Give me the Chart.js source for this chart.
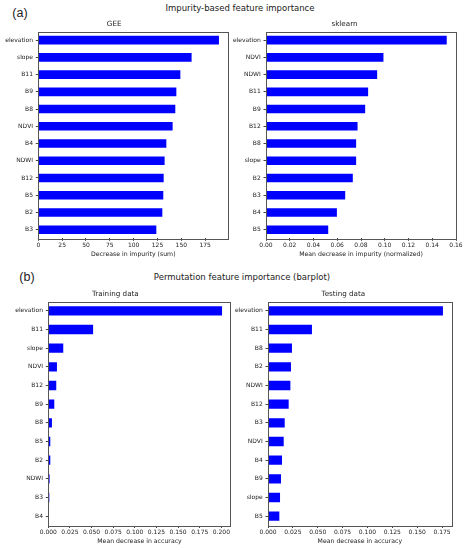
<!DOCTYPE html>
<html>
<head>
<meta charset="utf-8">
<script src="https://cdn.jsdelivr.net/npm/chart.js@4.4.1/dist/chart.umd.min.js"></script>
<style>
body { margin: 0; background: #fff; }
#fig { position: relative; width: 467px; height: 550px; overflow: hidden; font-family: "DejaVu Sans", sans-serif; color: #222; }
#fig canvas { position: absolute; }
.lbl { position: absolute; white-space: nowrap; line-height: 1; transform: translate(-50%, -50%); }
</style>
</head>
<body>
<div id="fig">
  <div class="lbl" style="left:20px;top:13px;font-size:12.5px;font-family:'Liberation Sans',sans-serif">(a)</div>
  <div class="lbl" style="left:240px;top:8px;font-size:8.5px">Impurity-based feature importance</div>
  <div class="lbl" style="left:27px;top:277px;font-size:12.5px;font-family:'Liberation Sans',sans-serif">(b)</div>
  <div class="lbl" style="left:242px;top:277px;font-size:8.5px">Permutation feature importance (barplot)</div>
  <canvas id="geeChart" width="233" height="250" style="left:0;top:14px"></canvas>
  <canvas id="sklearnChart" width="234" height="250" style="left:233px;top:14px"></canvas>
  <canvas id="trainChart" width="235" height="266" style="left:0;top:284px"></canvas>
  <canvas id="testChart" width="232" height="266" style="left:235px;top:284px"></canvas>
</div>
<script>
// GEE impurity importance
const geeLabels = ['elevation', 'slope', 'B11', 'B9', 'B8', 'NDVI', 'B4', 'NDWI', 'B12', 'B5', 'B2', 'B3'];
const geeValues = [189.5, 160.8, 149, 144.8, 143.7, 140.9, 134.3, 132.5, 131.5, 131.1, 130.1, 123.8];
const geeTicks = [0, 25, 50, 75, 100, 125, 150, 175];

// sklearn impurity importance
const skLabels = ['elevation', 'NDVI', 'NDWI', 'B11', 'B9', 'B12', 'B8', 'slope', 'B2', 'B3', 'B4', 'B5'];
const skValues = [0.1522, 0.0989, 0.0936, 0.0860, 0.0835, 0.0771, 0.0759, 0.0759, 0.0731, 0.0667, 0.0597, 0.0524];
const skTicks = [0, 0.02, 0.04, 0.06, 0.08, 0.10, 0.12, 0.14, 0.16];

// permutation importance, training data
const trainLabels = ['elevation', 'B11', 'slope', 'NDVI', 'B12', 'B9', 'B8', 'B5', 'B2', 'NDWI', 'B3', 'B4'];
const trainValues = [0.2008, 0.0518, 0.0173, 0.0100, 0.0092, 0.0069, 0.0042, 0.0023, 0.0023, 0.0015, 0.0012, 0];
const trainTicks = [0, 0.025, 0.05, 0.075, 0.1, 0.125, 0.15, 0.175, 0.2];

// permutation importance, testing data
const testLabels = ['elevation', 'B11', 'B8', 'B2', 'NDWI', 'B12', 'B3', 'NDVI', 'B4', 'B9', 'slope', 'B5'];
const testValues = [0.1759, 0.0442, 0.0241, 0.0231, 0.0225, 0.0208, 0.0168, 0.0158, 0.0141, 0.0131, 0.0121, 0.0114];
const testTicks = [0, 0.025, 0.05, 0.075, 0.1, 0.125, 0.15, 0.175];

const FONT = '"DejaVu Sans", sans-serif';

// matplotlib style box around the plot area
const framePlugin = {
  id: 'frame',
  afterDraw(chart) {
    const a = chart.chartArea;
    const ctx = chart.ctx;
    ctx.save();
    ctx.strokeStyle = '#555';
    ctx.lineWidth = 1;
    ctx.strokeRect(Math.round(a.left) + 0.5, Math.round(a.top) + 0.5, Math.round(a.right - a.left), Math.round(a.bottom - a.top));
    ctx.restore();
  }
};

function drawPanel(id, opts) {
  const canvas = document.getElementById(id);
  return new Chart(canvas, {
    type: 'bar',
    plugins: [framePlugin],
    data: {
      labels: opts.labels,
      datasets: [{
        data: opts.values,
        backgroundColor: '#0000ff',
        borderWidth: 0,
        barPercentage: 0.5,
        categoryPercentage: 1,
      }]
    },
    options: {
      indexAxis: 'y',
      responsive: false,
      animation: false,
      events: [],
      layout: { padding: { left: 0, top: 0, bottom: 0, right: opts.padRight } },
      plugins: {
        legend: { display: false },
        tooltip: { enabled: false },
        title: {
          display: true,
          text: opts.title,
          color: '#222',
          font: { family: FONT, size: 7.2, weight: 'normal', lineHeight: 1.2 },
          padding: { top: 5.68, bottom: 3.18 },
        },
      },
      scales: {
        x: {
          min: 0,
          max: opts.max,
          afterBuildTicks: s => { s.ticks = opts.ticks.map(v => ({ value: v })); },
          afterFit: s => { s.height = opts.xHeight; },
          border: { display: false },
          grid: { display: true, drawOnChartArea: false, drawTicks: true, tickLength: 2.5, color: '#444' },
          ticks: {
            color: '#222',
            font: { family: FONT, size: 6 },
            padding: opts.tickPad,
            maxRotation: 0,
            minRotation: 0,
            autoSkip: false,
            callback: v => opts.fmt(v),
          },
          title: {
            display: true,
            text: opts.xTitle,
            color: '#222',
            font: { family: FONT, size: 6.2, lineHeight: 1.2 },
            padding: { top: 0, bottom: opts.titlePad },
          },
        },
        y: {
          afterFit: s => { s.width = opts.yWidth; },
          border: { display: false },
          grid: { display: true, offset: false, drawOnChartArea: false, drawTicks: true, tickLength: 2.5, color: '#444' },
          ticks: {
            color: '#222',
            font: { family: FONT, size: 6 },
            padding: 2.8,
            autoSkip: false,
          },
        },
      },
    },
  });
}

drawPanel('geeChart', {
  labels: geeLabels, values: geeValues, ticks: geeTicks, max: 199.3,
  title: 'GEE', xTitle: 'Decrease in impurity (sum)', fmt: v => String(v),
  yWidth: 38.3, padRight: 4.7, xHeight: 25.7, tickPad: 1.3, titlePad: 6,
});
drawPanel('sklearnChart', {
  labels: skLabels, values: skValues, ticks: skTicks, max: 0.16,
  title: 'sklearn', xTitle: 'Mean decrease in impurity (normalized)', fmt: v => v.toFixed(2),
  yWidth: 33, padRight: 11, xHeight: 25.7, tickPad: 1.3, titlePad: 6,
});
drawPanel('trainChart', {
  labels: trainLabels, values: trainValues, ticks: trainTicks, max: 0.2108,
  title: 'Training data', xTitle: 'Mean decrease in accuracy', fmt: v => v.toFixed(3),
  yWidth: 48.3, padRight: 4.3, xHeight: 24.5, tickPad: 0.7, titlePad: 5.3,
});
drawPanel('testChart', {
  labels: testLabels, values: testValues, ticks: testTicks, max: 0.1847,
  title: 'Testing data', xTitle: 'Mean decrease in accuracy', fmt: v => v.toFixed(3),
  yWidth: 33, padRight: 15.3, xHeight: 24.5, tickPad: 0.7, titlePad: 5.3,
});
</script>
</body>
</html>
